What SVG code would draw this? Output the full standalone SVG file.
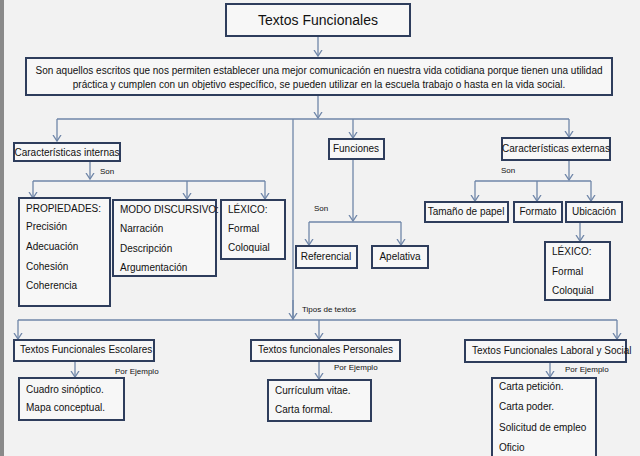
<svg xmlns="http://www.w3.org/2000/svg" width="640" height="456" viewBox="0 0 640 456">
<style>
.b{fill:#f7f7f7;stroke:#2e3d5c;stroke-width:2}
.t{font-family:"Liberation Sans",Arial,sans-serif;font-size:10px;fill:#111}
.s{font-family:"Liberation Sans",Arial,sans-serif;font-size:8px;fill:#111}
.c{fill:none;stroke:#6f86a8;stroke-width:1.3}
.a{marker-end:url(#ar)}
</style>
<defs><marker id="ar" markerWidth="10" markerHeight="10" refX="6" refY="5" orient="auto" markerUnits="userSpaceOnUse"><path d="M0,1 L6,5 L0,9" fill="none" stroke="#6f86a8" stroke-width="1.3"/></marker></defs>
<rect width="640" height="456" fill="#f2f2f2"/>
<rect x="0" y="0" width="4" height="456" fill="#8a8a8a"/>
<g id="connectors">
<path class="c a" d="M318,36 V56"/>
<path class="c a" d="M318,95 V118"/>
<path class="c" d="M57,119 H569"/>
<path class="c a" d="M57,119 V141"/><path class="c a" d="M353,119 V138"/><path class="c a" d="M569,119 V137"/>
<path class="c" d="M293,119 V320"/>
<path class="c a" d="M90,161 V179"/>
<path class="c" d="M33,181 H265"/>
<path class="c a" d="M33,181 V198"/><path class="c a" d="M187,181 V199"/><path class="c a" d="M265,181 V199"/>
<path class="c a" d="M353,159 V221"/>
<path class="c" d="M309,222 H401"/>
<path class="c a" d="M309,222 V245"/><path class="c a" d="M401,222 V245"/>
<path class="c a" d="M569,160 V180"/>
<path class="c" d="M475,181 H591"/>
<path class="c a" d="M475,181 V201"/><path class="c a" d="M537,181 V201"/><path class="c a" d="M591,181 V201"/>
<path class="c a" d="M580,222 V241"/>
<path class="c a" d="M293,300 V319"/>
<path class="c" d="M18,320 H617"/>
<path class="c a" d="M18,320 V339"/><path class="c a" d="M319,320 V339"/><path class="c a" d="M617,320 V339"/>
<path class="c a" d="M75,361 V377"/>
<path class="c a" d="M319,361 V379"/>
<path class="c a" d="M550,362 V377"/>
</g>
<text class="s" x="100" y="174">Son</text>
<text class="s" x="314" y="211">Son</text>
<text class="s" x="501" y="173">Son</text>
<text class="s" x="302" y="312">Tipos de textos</text>
<text class="s" x="115" y="374">Por Ejemplo</text>
<text class="s" x="334" y="370">Por Ejemplo</text>
<text class="s" x="565" y="372">Por Ejemplo</text>
<g id="title"><rect class="b" x="226" y="4" width="184" height="32"/><text x="318" y="25" text-anchor="middle" font-family="Liberation Sans,Arial,sans-serif" font-size="14" fill="#111">Textos Funcionales</text></g>
<g id="desc"><rect class="b" x="26" y="58" width="586" height="37"/>
<text class="t" x="319" y="74" text-anchor="middle">Son aquellos escritos que nos permiten establecer una mejor comunicación en nuestra vida cotidiana porque tienen una utilidad</text>
<text class="t" x="319" y="88" text-anchor="middle">práctica y cumplen con un objetivo específico, se pueden utilizar en la escuela trabajo o hasta en la vida social.</text></g>
<g id="internas"><rect class="b" x="14" y="143" width="106" height="18"/><text class="t" x="67" y="156" text-anchor="middle">Características internas</text></g>
<g id="propiedades"><rect class="b" x="19" y="198" width="91" height="108"/>
<text class="t" x="26" y="212">PROPIEDADES:</text><text class="t" x="26" y="230">Precisión</text><text class="t" x="26" y="250">Adecuación</text><text class="t" x="26" y="270">Cohesión</text><text class="t" x="26" y="289">Coherencia</text></g>
<g id="modo"><rect class="b" x="113" y="200" width="103" height="76"/>
<text class="t" x="120" y="213">MODO DISCURSIVO:</text><text class="t" x="120" y="232">Narración</text><text class="t" x="120" y="252">Descripción</text><text class="t" x="120" y="271">Argumentación</text></g>
<g id="lexico1"><rect class="b" x="221" y="200" width="64" height="59"/>
<text class="t" x="228" y="213">LÉXICO:</text><text class="t" x="228" y="232">Formal</text><text class="t" x="228" y="251">Coloquial</text></g>
<g id="funciones"><rect class="b" x="329" y="139" width="55" height="20"/><text class="t" x="356" y="152" text-anchor="middle">Funciones</text></g>
<g id="referencial"><rect class="b" x="296" y="246" width="61" height="22"/><text class="t" x="326" y="260" text-anchor="middle">Referencial</text></g>
<g id="apelativa"><rect class="b" x="372" y="246" width="56" height="22"/><text class="t" x="400" y="260" text-anchor="middle">Apelativa</text></g>
<g id="externas"><rect class="b" x="502" y="138" width="108" height="22"/><text class="t" x="556" y="152" text-anchor="middle">Características externas</text></g>
<g id="tamano"><rect class="b" x="425" y="202" width="83" height="20"/><text class="t" x="466" y="215" text-anchor="middle">Tamaño de papel</text></g>
<g id="formato"><rect class="b" x="514" y="202" width="48" height="20"/><text class="t" x="538" y="215" text-anchor="middle">Formato</text></g>
<g id="ubicacion"><rect class="b" x="566" y="202" width="56" height="20"/><text class="t" x="594" y="215" text-anchor="middle">Ubicación</text></g>
<g id="lexico2"><rect class="b" x="545" y="242" width="65" height="58"/>
<text class="t" x="552" y="255">LÉXICO:</text><text class="t" x="552" y="275">Formal</text><text class="t" x="552" y="294">Coloquial</text></g>
<g id="escolares"><rect class="b" x="14" y="340" width="140" height="21"/><text class="t" x="20" y="353">Textos Funcionales Escolares</text></g>
<g id="personales"><rect class="b" x="251" y="340" width="149" height="21"/><text class="t" x="258" y="353">Textos funcionales Personales</text></g>
<g id="laboral"><rect class="b" x="465" y="340" width="161" height="22"/><text class="t" x="472" y="354">Textos Funcionales Laboral y Social</text></g>
<g id="ej1"><rect class="b" x="19" y="378" width="105" height="42"/><text class="t" x="26" y="393">Cuadro sinóptico.</text><text class="t" x="26" y="411">Mapa conceptual.</text></g>
<g id="ej2"><rect class="b" x="268" y="380" width="103" height="41"/><text class="t" x="275" y="394">Currículum vitae.</text><text class="t" x="275" y="413">Carta formal.</text></g>
<g id="ej3"><rect class="b" x="492" y="378" width="104" height="82"/><text class="t" x="499" y="390">Carta petición.</text><text class="t" x="499" y="410">Carta poder.</text><text class="t" x="499" y="431">Solicitud de empleo</text><text class="t" x="499" y="451">Oficio</text></g>
</svg>
